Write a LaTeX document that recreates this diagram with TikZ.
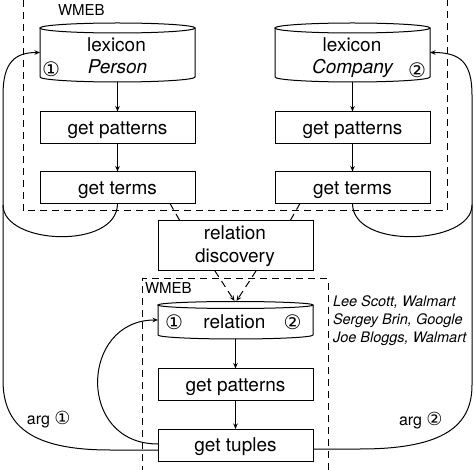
\documentclass[tikz,border=0pt]{standalone}
\usepackage{fontspec}
\setmainfont{TeX Gyre Heros}
\newfontfamily\dvs{DejaVu Sans}
\usetikzlibrary{arrows.meta}
\begin{document}
\begin{tikzpicture}[x=1pt,y=-1pt,
  every node/.style={inner sep=0pt,outer sep=0pt},
  box/.style={draw,line width=1pt,minimum width=155pt,minimum height=32pt,text height=13.5pt,text depth=0pt,font=\fontsize{19}{22}\selectfont},
  cylbody/.style={minimum width=155pt},
  lbl/.style={anchor=base,font=\fontsize{19}{22}\selectfont},
  circ/.style={font=\dvs\fontsize{20}{22}\selectfont},
  wmeb/.style={anchor=base west,font=\fontsize{15}{18}\selectfont},
  tup/.style={anchor=base west,font=\fontsize{14.5}{18}\selectfont\itshape},
  arglbl/.style={anchor=base west,font=\fontsize{16}{19}\selectfont},
  ln/.style={line width=1pt},
  arr/.style={ln,-{Stealth[length=5.5pt,width=4.5pt]}},
  dsh/.style={ln,dash pattern=on 7pt off 5pt},
]
\useasboundingbox (0,0) rectangle (474,470);
\fill[white] (0,0) rectangle (474,470);

% dashed frames
\draw[dsh] (23,-12) -- (23,211) -- (447,211) -- (447,-12);
\draw[dsh] (142,485) -- (142,279) -- (328,279) -- (328,485);
\node[wmeb] (w1) at (58,16) {WMEB};
\node[wmeb] (w2) at (145,294) {WMEB};

% left column
\node[cylbody,minimum height=49pt] (lexP) at (117.5,52.5) {};
\draw[ln] (lexP.north west) -- (lexP.south west) arc[start angle=180,end angle=360,x radius=77.5pt,y radius=5pt] -- (lexP.north east);
\draw[ln] (lexP.north) ellipse[x radius=77.5pt,y radius=5pt];
\node[lbl] (lexPt1) at (116.5,52) {lexicon};
\node[lbl] (lexPt2) at (117.5,74) {\itshape Person};
\node[circ] (c1a) at (51,69) {①};
\node[box] (gpL) at (117.5,127.5) {get patterns};
\node[box] (gtL) at (117.5,187.5) {get terms};

% right column
\node[cylbody,minimum height=49pt] (lexC) at (352.5,52.5) {};
\draw[ln] (lexC.north west) -- (lexC.south west) arc[start angle=180,end angle=360,x radius=77.5pt,y radius=5pt] -- (lexC.north east);
\draw[ln] (lexC.north) ellipse[x radius=77.5pt,y radius=5pt];
\node[lbl] (lexCt1) at (352,52) {lexicon};
\node[lbl] (lexCt2) at (352.5,74) {\itshape Company};
\node[circ] (c2a) at (417,70) {②};
\node[box] (gpR) at (352.5,127.5) {get patterns};
\node[box] (gtR) at (352.5,187.5) {get terms};

% relation discovery
\node[draw,ln,minimum width=155pt,minimum height=50pt] (rd) at (235.5,246) {};
\node[lbl] (rdt1) at (235,240) {relation};
\node[lbl] (rdt2) at (235,262.7) {discovery};

% bottom column
\node[cylbody,minimum height=30pt] (rel) at (235.5,320) {};
\draw[ln] (rel.north west) -- (rel.south west) arc[start angle=180,end angle=360,x radius=77.5pt,y radius=4pt] -- (rel.north east);
\draw[ln] (rel.north) ellipse[x radius=77.5pt,y radius=3.5pt];
\node[lbl] (relt) at (234.5,328.3) {relation};
\node[circ] (c1b) at (174,322) {①};
\node[circ] (c2b) at (292.5,322) {②};
\node[box,text height=13pt] (gpB) at (235.5,384.5) {get patterns};
\node[box,text height=13pt] (gtup) at (235.5,445) {get tuples};

% tuples text
\node[tup] (t1) at (333,306.7) {Lee Scott, Walmart};
\node[tup] (t2) at (333,325) {Sergey Brin, Google};
\node[tup] (t3) at (333,342.3) {Joe Bloggs, Walmart};

% arg labels
\node[arglbl] (a1) at (27,424) {arg {\dvs\fontsize{18}{20}\selectfont ①}};
\node[arglbl] (a2) at (399,425.7) {arg {\dvs\fontsize{18}{20}\selectfont ②}};

% solid arrows in columns
\draw[arr] ([yshift=-5pt]lexP.south) -- (gpL.north);
\draw[arr] (gpL.south) -- (gtL.north);
\draw[arr] ([yshift=-5pt]lexC.south) -- (gpR.north);
\draw[arr] (gpR.south) -- (gtR.north);
\draw[arr] ([yshift=-4pt]rel.south) -- (gpB.north);
\draw[arr] (gpB.south) -- (gtup.north);

% feedback loops top
\draw[ln] (gtL.south) .. controls (117.5,250) and (3,245) .. (3,205);
\draw[ln] (gtR.south) .. controls (352.5,250) and (472,245) .. (472,205);

% arg lines
\coordinate (la) at (3,95);
\coordinate (ra) at (472,95);
\draw[arr] ([yshift=-5pt]gtup.west) -- (110,450) .. controls (30,450) and (3,425) .. (3,380) -- (la) .. controls (3,62) and (15,52.5) .. (lexP.west);
\draw[arr] ([yshift=-4pt]gtup.east) -- (360,449) .. controls (445,449) and (472,425) .. (472,385) -- (ra) .. controls (472,62) and (460,52.5) .. (lexC.east);

% relation loop
\draw[arr] ([yshift=1pt]gtup.west) .. controls (76,444) and (80,320) .. (rel.west);

% dashed connections
\draw[dsh] ([xshift=52.5pt]gtL.south) -- ([xshift=-55.5pt]rd.north);
\draw[dsh] ([xshift=-52.5pt]gtR.south) -- ([xshift=54.5pt]rd.north);
\draw[dsh,-{Stealth[length=5.5pt,width=4.5pt]}] ([xshift=-20.5pt]rd.south) -- ([xshift=-1pt,yshift=4pt]rel.north);
\draw[dsh,-{Stealth[length=5.5pt,width=4.5pt]}] ([xshift=20.5pt]rd.south) -- ([xshift=1pt,yshift=4pt]rel.north);
\end{tikzpicture}
\end{document}
